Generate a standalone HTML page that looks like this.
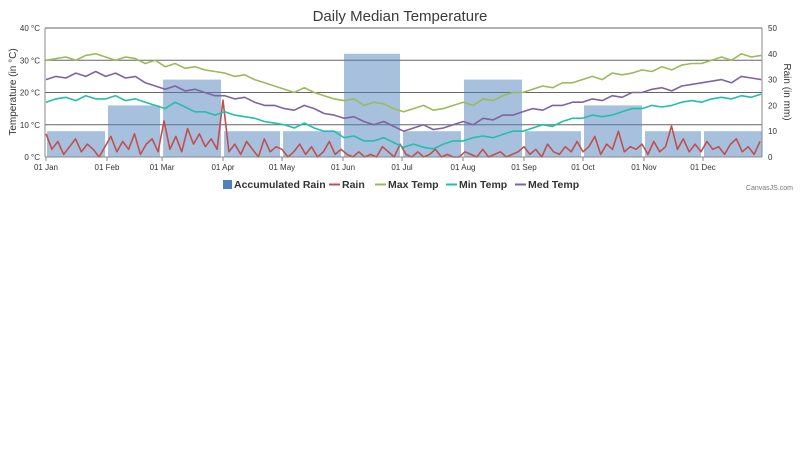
<!DOCTYPE html>
<html><head><meta charset="utf-8">
<style>
html,body{margin:0;padding:0;background:#fff;}
svg{display:block;font-family:"Liberation Sans",Arial,sans-serif;}
</style></head>
<body>
<svg id="chart" width="800" height="450" viewBox="0 0 800 450">
<text x="400" y="21" text-anchor="middle" font-size="15" fill="#3a3a3a">Daily Median Temperature</text>
<g id="grid"></g>
<g id="bars"></g>
<g id="lines"></g>
<g id="axes"></g>
<text transform="translate(16,92) rotate(-90)" text-anchor="middle" font-size="10" fill="#333">Temperature (in °C)</text>
<text transform="translate(784,92) rotate(90)" text-anchor="middle" font-size="10" fill="#333">Rain (in mm)</text>
<g id="legend"></g>
<text x="793" y="190" text-anchor="end" font-size="7" fill="#777">CanvasJS.com</text>
</svg>
<script>
const monthLabels=["01 Jan","01 Feb","01 Mar","01 Apr","01 May","01 Jun","01 Jul","01 Aug","01 Sep","01 Oct","01 Nov","01 Dec"];
const monthStartDays=[0,31,59,90,120,151,181,212,243,273,304,334];
const accumulatedRain=[10,20,30,10,10,40,10,30,10,20,10,10];
const tempTicks=[0,10,20,30,40];
const rainTicks=[0,10,20,30,40,50];
const maxTemp=[30,30.5,31,30,31.5,32,31,30,31,30.5,29,30,28,29,27.5,28,27,26.5,26,25,25.5,24,23,22,21,20,21.5,20,19,18,17.5,18,16,17,16.5,15,14,15,16,14.5,15,16,17,16,18,17.5,19,20,20,21,22,21.5,23,23,24,25,24,26,25.5,26,27,26.5,28,27,28.5,29,29,30,31,30,32,31,31.5];
const medTemp=[24,25,24.5,26,25,26.5,25,26,24.5,25,23,22,21,22,20.5,21,20,19,19,18,18.5,17,16,16,15,14.5,16,15,13.5,13,12,12.5,11,10,11,9.5,8,9,10,8.5,9,10,11,10,12,11.5,13,13,14,15,14.5,16,16,17,17,18,17.5,19,18.5,20,20,21,21.5,20.5,22,22.5,23,23.5,24,23,25,24.5,24];
const minTemp=[17,18,18.5,17.5,19,18,18,19,17.5,18,17,16,15,17,15.5,14,14,13,14,13,12.5,12,11,10.5,10,9,10.5,9,8,8,6,6.5,5,5,6,4.5,3,4,3,2.5,4,5,5,6,6.5,6,7,8,8,9,10,9.5,11,12,12,13,12.5,13,14,15,15,16,15.5,16,17,17.5,17,18,18.5,18,19,18.5,19.5];
const rain=[9,3,6,1,4,7,2,5,3,0,4,8,2,6,3,9,1,5,7,2,14,3,8,2,11,5,9,4,7,3,22,2,5,1,6,3,0,7,2,4,3,0,2,5,1,4,0,2,6,1,3,1,0,2,0,1,0,4,2,0,5,1,0,2,0,1,3,0,1,0,0,2,1,0,3,0,1,2,0,1,2,4,1,3,0,5,2,1,4,2,6,2,4,8,1,5,3,10,2,4,3,5,1,6,2,4,12,3,7,2,5,2,6,3,4,1,5,7,2,4,1,6];
const NS="http://www.w3.org/2000/svg";
const X0=46,X1=762,Y0=157,Y1=28;
const xDay=d=>X0+d*(X1-X0)/364;
const yT=v=>Y0-v/40*(Y0-Y1);
const yR=v=>Y0-v/50*(Y0-Y1);
function mk(tag,attrs,parent){const e=document.createElementNS(NS,tag);for(const k in attrs)e.setAttribute(k,attrs[k]);parent.appendChild(e);return e;}
const grid=document.getElementById('grid'),bars=document.getElementById('bars'),lines=document.getElementById('lines'),axes=document.getElementById('axes'),legend=document.getElementById('legend');
tempTicks.forEach(t=>{
  if(t>0){const g=mk('line',{x1:X0-1,x2:X1,y1:yT(t),y2:yT(t),stroke:'#666','stroke-width':1},grid);
  
  }
  const l=mk('text',{x:X0-6,y:yT(t)+3,'text-anchor':'end','font-size':8,fill:'#333'},axes);l.textContent=t+' °C';
  
  
});
rainTicks.forEach(t=>{
  const l=mk('text',{x:X1+6,y:yR(t)+3,'font-size':8,fill:'#333'},axes);l.textContent=t;
  
  
});
mk('line',{x1:X0-1,x2:X0-1,y1:Y1,y2:Y0,stroke:'#888'},axes);
mk('line',{x1:X1,x2:X1,y1:Y1,y2:Y0,stroke:'#888'},axes);
mk('line',{x1:X0-1,x2:X1,y1:Y0,y2:Y0,stroke:'#888'},axes);
monthLabels.forEach((m,i)=>{
  const x=xDay(monthStartDays[i]);
  mk('line',{x1:x,x2:x,y1:Y0,y2:Y0+4,stroke:'#888'},axes);
  const l=mk('text',{x:x,y:Y0+13,'text-anchor':'middle','font-size':8,fill:'#333'},axes);l.textContent=m;
  
  
});
accumulatedRain.forEach((v,i)=>{
  const s=monthStartDays[i],e=i<11?monthStartDays[i+1]:365;
  const x=xDay(s)+1,w=xDay(e)-xDay(s)-3;
  const r=mk('rect',{x:x,y:yR(v),width:w,height:Y0-yR(v),fill:'#4f81bc','fill-opacity':0.5},bars);
  
  
});
function drawLine(arr,step,yf,color,name){
  const pts=arr.map((v,i)=>xDay(Math.min(i*step,364)).toFixed(1)+','+yf(v).toFixed(1)).join(' ');
  const p=mk('polyline',{points:pts,fill:'none',stroke:color,'stroke-width':1.6,'stroke-linejoin':'round'},lines);
  
  
}
drawLine(rain,3,yR,'#c0504e','rain-line');
drawLine(maxTemp,5.05,yT,'#9bbb58','max-temp-line');
drawLine(minTemp,5.05,yT,'#23bfaa','min-temp-line');
drawLine(medTemp,5.05,yT,'#8064a1','med-temp-line');
const legendNames=["Accumulated Rain","Rain","Max Temp","Min Temp","Med Temp"];
const legendColors=["#4f81bc","#c0504e","#9bbb58","#23bfaa","#8064a1"];
const legendX=[223,329,375,446,515];
legendNames.forEach((n,i)=>{
  const g=mk('g',{},legend);
  
  
  if(i===0)mk('rect',{x:legendX[i],y:180,width:9,height:9,fill:legendColors[i]},g);
  else mk('line',{x1:legendX[i],x2:legendX[i]+11,y1:184.5,y2:184.5,stroke:legendColors[i],'stroke-width':2},g);
  const t=mk('text',{x:legendX[i]+(i===0?11:13),y:188,'font-size':10.5,'font-weight':'bold',fill:'#333'},g);t.textContent=n;
});
</script>
</body></html>
